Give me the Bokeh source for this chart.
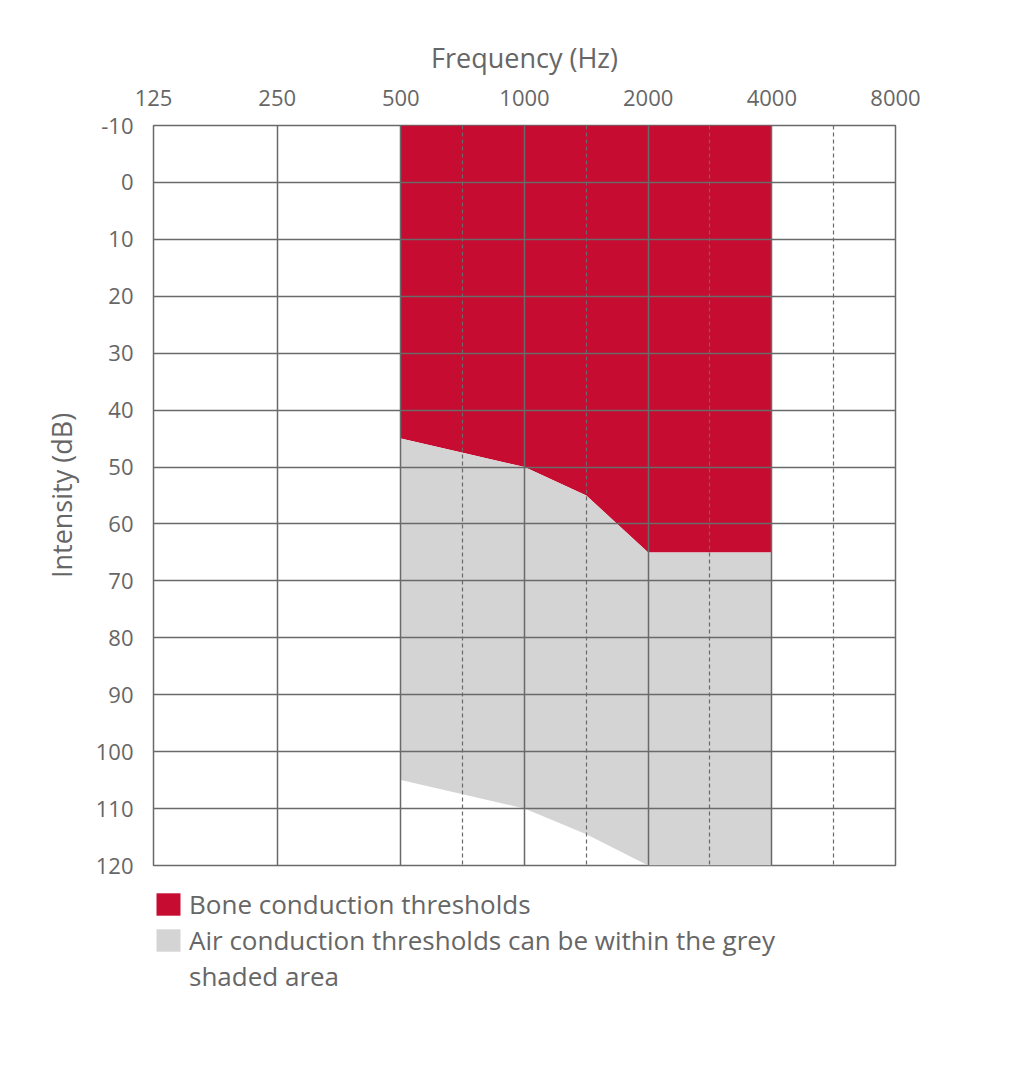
from bokeh.plotting import figure
from bokeh.models import FixedTicker, NumeralTickFormatter, Legend, LegendItem, Range1d
from bokeh.embed import file_html
from bokeh.resources import INLINE

# ---- data ----
freq_ticks = [125, 250, 500, 1000, 2000, 4000, 8000]
solid_grid_freqs = [250, 500, 1000, 2000, 4000]
dashed_grid_freqs = [707, 1414, 2828, 5657]   # half-octave lines
db_ticks = list(range(-10, 130, 10))
db_grid = list(range(0, 120, 10))

band_freqs = [500, 707, 1000, 1414, 2000, 4000]
top_db = [-10, -10, -10, -10, -10, -10]
bone_db = [45, 47.5, 50, 55, 65, 65]
air_db = [105, 107.5, 110, 114.5, 120, 120]

legend_labels = ["Bone conduction thresholds",
                 "Air conduction thresholds can be within the grey",
                 "shaded area"]

RED = "#c60c30"
GREY = "#d4d4d4"
LINE = "#6a6a6a"
TEXT = "#666666"
FONT = "Open Sans"

p = figure(frame_width=742, frame_height=740, x_axis_type="log",
           x_range=Range1d(125, 8000), y_range=Range1d(120, -10),
           x_axis_location="above", output_backend="svg", toolbar_location=None,
           min_border_left=153, min_border_right=113, min_border_top=125,
           min_border_bottom=190)

red = p.varea(x=band_freqs, y1=top_db, y2=bone_db, fill_color=RED)
grey = p.varea(x=band_freqs, y1=bone_db, y2=air_db, fill_color=GREY)
blank = p.varea(x=band_freqs, y1=air_db, y2=air_db, fill_color=GREY, fill_alpha=0)

p.outline_line_color = LINE
p.outline_line_width = 1.5

# axes
xa = p.xaxis[0]
xa.ticker = FixedTicker(ticks=freq_ticks)
xa.formatter = NumeralTickFormatter(format="0")
xa.axis_label = "Frequency (Hz)"
ya = p.yaxis[0]
ya.ticker = FixedTicker(ticks=db_ticks)
ya.major_label_overrides = {-10: "-10"}
ya.axis_label = "Intensity (dB)"
for ax in (xa, ya):
    ax.axis_line_color = None
    ax.major_tick_line_color = None
    ax.minor_tick_line_color = None
    ax.major_tick_out = 0
    ax.major_label_text_font = FONT
    ax.major_label_text_font_size = "22px"
    ax.major_label_text_color = TEXT
    ax.axis_label_text_font = FONT
    ax.axis_label_text_font_size = "27px"
    ax.axis_label_text_font_style = "normal"
    ax.axis_label_text_color = TEXT
xa.major_label_standoff = 20
xa.axis_label_standoff = 11
ya.major_label_standoff = 20
ya.axis_label_standoff = 13

# grids
xg = p.xgrid[0]
xg.ticker = FixedTicker(ticks=solid_grid_freqs, minor_ticks=dashed_grid_freqs)
xg.grid_line_color = LINE
xg.grid_line_width = 1.5
xg.minor_grid_line_color = LINE
xg.minor_grid_line_width = 1.2
xg.minor_grid_line_dash = "4 3"
xg.level = "overlay"
yg = p.ygrid[0]
yg.ticker = FixedTicker(ticks=db_grid)
yg.grid_line_color = LINE
yg.grid_line_width = 1.5
yg.level = "overlay"

legend = Legend(items=[
    LegendItem(label=legend_labels[0], renderers=[red]),
    LegendItem(label=legend_labels[1], renderers=[grey]),
    LegendItem(label=legend_labels[2], renderers=[blank]),
], location="top_left", orientation="vertical")
legend.title = " "
legend.title_text_font_size = "10px"
legend.title_standoff = 10
legend.glyph_width = 30
legend.glyph_height = 28
legend.label_standoff = 6
legend.spacing = 0
legend.padding = 0
legend.margin = 0
legend.border_line_color = None
legend.background_fill_alpha = 0
legend.label_text_font = FONT
legend.label_text_font_size = "26px"
legend.label_text_color = TEXT
p.add_layout(legend, "below")

open("out.html", "w").write(file_html(p, INLINE))
